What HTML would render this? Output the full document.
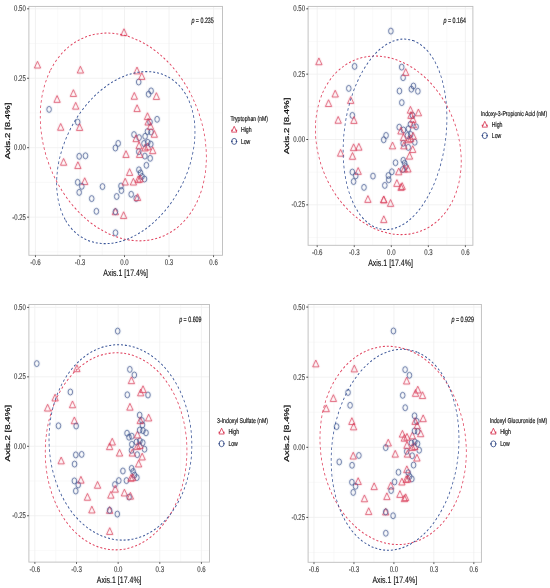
<!DOCTYPE html>
<html><head><meta charset="utf-8"><title>PCoA</title>
<style>html,body{margin:0;padding:0;background:#fff;}svg{display:block;}text{text-rendering:geometricPrecision;}</style></head>
<body><svg width="550" height="588" viewBox="0 0 550 588" font-family="'Liberation Sans', Arial, Helvetica, sans-serif">
<defs><filter id="bl" x="0" y="0" width="100%" height="100%" filterUnits="userSpaceOnUse"><feConvolveMatrix order="3" kernelMatrix="1 2 1 2 24 2 1 2 1" edgeMode="duplicate" preserveAlpha="false"/></filter></defs>
<rect width="550" height="588" fill="#fff"/>
<clipPath id="cTL"><rect x="28.9" y="6.4" width="193.6" height="248.9"/></clipPath>
<g clip-path="url(#cTL)"><line x1="57.72" y1="6.4" x2="57.72" y2="255.3" stroke="#f5f5f5" stroke-width="0.6"/><line x1="102.24" y1="6.4" x2="102.24" y2="255.3" stroke="#f5f5f5" stroke-width="0.6"/><line x1="146.76" y1="6.4" x2="146.76" y2="255.3" stroke="#f5f5f5" stroke-width="0.6"/><line x1="191.28" y1="6.4" x2="191.28" y2="255.3" stroke="#f5f5f5" stroke-width="0.6"/><line x1="28.9" y1="251.88" x2="222.5" y2="251.88" stroke="#f5f5f5" stroke-width="0.6"/><line x1="28.9" y1="182.42" x2="222.5" y2="182.42" stroke="#f5f5f5" stroke-width="0.6"/><line x1="28.9" y1="112.97" x2="222.5" y2="112.97" stroke="#f5f5f5" stroke-width="0.6"/><line x1="28.9" y1="43.52" x2="222.5" y2="43.52" stroke="#f5f5f5" stroke-width="0.6"/><line x1="35.46" y1="6.4" x2="35.46" y2="255.3" stroke="#efefef" stroke-width="0.8"/><line x1="79.98" y1="6.4" x2="79.98" y2="255.3" stroke="#efefef" stroke-width="0.8"/><line x1="124.5" y1="6.4" x2="124.5" y2="255.3" stroke="#efefef" stroke-width="0.8"/><line x1="169.02" y1="6.4" x2="169.02" y2="255.3" stroke="#efefef" stroke-width="0.8"/><line x1="213.54" y1="6.4" x2="213.54" y2="255.3" stroke="#efefef" stroke-width="0.8"/><line x1="28.9" y1="217.15" x2="222.5" y2="217.15" stroke="#efefef" stroke-width="0.8"/><line x1="28.9" y1="147.7" x2="222.5" y2="147.7" stroke="#efefef" stroke-width="0.8"/><line x1="28.9" y1="78.25" x2="222.5" y2="78.25" stroke="#efefef" stroke-width="0.8"/><line x1="28.9" y1="8.8" x2="222.5" y2="8.8" stroke="#efefef" stroke-width="0.8"/><g filter="url(#bl)"><path d="M124 28.76L127.15 35.56L120.85 35.56Z" fill="none" stroke="#d62c4a" stroke-width="0.8" stroke-linejoin="round"/><path d="M37.5 61.26L40.65 68.06L34.35 68.06Z" fill="none" stroke="#d62c4a" stroke-width="0.8" stroke-linejoin="round"/><path d="M80.4 66.26L83.55 73.06L77.25 73.06Z" fill="none" stroke="#d62c4a" stroke-width="0.8" stroke-linejoin="round"/><path d="M73.4 89.66L76.55 96.46L70.25 96.46Z" fill="none" stroke="#d62c4a" stroke-width="0.8" stroke-linejoin="round"/><path d="M57.1 95.56L60.25 102.36L53.95 102.36Z" fill="none" stroke="#d62c4a" stroke-width="0.8" stroke-linejoin="round"/><path d="M75.7 102.36L78.85 109.16L72.55 109.16Z" fill="none" stroke="#d62c4a" stroke-width="0.8" stroke-linejoin="round"/><ellipse cx="49.1" cy="109.4" rx="2.3" ry="3.0" fill="none" stroke="#2b4382" stroke-width="0.8"/><ellipse cx="77.7" cy="122.1" rx="2.3" ry="3.0" fill="none" stroke="#2b4382" stroke-width="0.8"/><path d="M60.7 123.46L63.85 130.26L57.55 130.26Z" fill="none" stroke="#d62c4a" stroke-width="0.8" stroke-linejoin="round"/><path d="M79.6 123.66L82.75 130.46L76.45 130.46Z" fill="none" stroke="#d62c4a" stroke-width="0.8" stroke-linejoin="round"/><ellipse cx="79.2" cy="156.3" rx="2.3" ry="3.0" fill="none" stroke="#2b4382" stroke-width="0.8"/><ellipse cx="85.5" cy="155.8" rx="2.3" ry="3.0" fill="none" stroke="#2b4382" stroke-width="0.8"/><path d="M63.6 158.46L66.75 165.26L60.45 165.26Z" fill="none" stroke="#d62c4a" stroke-width="0.8" stroke-linejoin="round"/><path d="M77.9 161.76L81.05 168.56L74.75 168.56Z" fill="none" stroke="#d62c4a" stroke-width="0.8" stroke-linejoin="round"/><ellipse cx="77.7" cy="182.3" rx="2.3" ry="3.0" fill="none" stroke="#2b4382" stroke-width="0.8"/><path d="M84.7 177.76L87.85 184.56L81.55 184.56Z" fill="none" stroke="#d62c4a" stroke-width="0.8" stroke-linejoin="round"/><ellipse cx="81.8" cy="186.3" rx="2.3" ry="3.0" fill="none" stroke="#2b4382" stroke-width="0.8"/><ellipse cx="79.2" cy="192.4" rx="2.3" ry="3.0" fill="none" stroke="#2b4382" stroke-width="0.8"/><ellipse cx="102.5" cy="186.6" rx="2.3" ry="3.0" fill="none" stroke="#2b4382" stroke-width="0.8"/><ellipse cx="91.7" cy="198.6" rx="2.3" ry="3.0" fill="none" stroke="#2b4382" stroke-width="0.8"/><ellipse cx="96.4" cy="211.3" rx="2.3" ry="3.0" fill="none" stroke="#2b4382" stroke-width="0.8"/><ellipse cx="116.7" cy="196.5" rx="2.3" ry="3.0" fill="none" stroke="#2b4382" stroke-width="0.8"/><ellipse cx="136.2" cy="198.5" rx="2.3" ry="3.0" fill="none" stroke="#2b4382" stroke-width="0.8"/><path d="M137.6 193.76L140.75 200.56L134.45 200.56Z" fill="none" stroke="#d62c4a" stroke-width="0.8" stroke-linejoin="round"/><path d="M115.4 207.96L118.55 214.76L112.25 214.76Z" fill="none" stroke="#d62c4a" stroke-width="0.8" stroke-linejoin="round"/><ellipse cx="115.4" cy="211.7" rx="2.3" ry="3.0" fill="none" stroke="#2b4382" stroke-width="0.8"/><path d="M123.6 211.76L126.75 218.56L120.45 218.56Z" fill="none" stroke="#d62c4a" stroke-width="0.8" stroke-linejoin="round"/><ellipse cx="115.5" cy="232.8" rx="2.3" ry="3.0" fill="none" stroke="#2b4382" stroke-width="0.8"/><ellipse cx="121" cy="186" rx="2.3" ry="3.0" fill="none" stroke="#2b4382" stroke-width="0.8"/><ellipse cx="121.4" cy="190.5" rx="2.3" ry="3.0" fill="none" stroke="#2b4382" stroke-width="0.8"/><ellipse cx="131.2" cy="194.3" rx="2.3" ry="3.0" fill="none" stroke="#2b4382" stroke-width="0.8"/><path d="M125.2 178.26L128.35 185.06L122.05 185.06Z" fill="none" stroke="#d62c4a" stroke-width="0.8" stroke-linejoin="round"/><path d="M133.4 178.26L136.55 185.06L130.25 185.06Z" fill="none" stroke="#d62c4a" stroke-width="0.8" stroke-linejoin="round"/><path d="M129.6 168.66L132.75 175.46L126.45 175.46Z" fill="none" stroke="#d62c4a" stroke-width="0.8" stroke-linejoin="round"/><ellipse cx="138.9" cy="169.8" rx="2.3" ry="3.0" fill="none" stroke="#2b4382" stroke-width="0.8"/><ellipse cx="140.5" cy="172.9" rx="2.3" ry="3.0" fill="none" stroke="#2b4382" stroke-width="0.8"/><ellipse cx="142" cy="176.5" rx="2.3" ry="3.0" fill="none" stroke="#2b4382" stroke-width="0.8"/><ellipse cx="144.5" cy="179" rx="2.3" ry="3.0" fill="none" stroke="#2b4382" stroke-width="0.8"/><path d="M138.2 175.86L141.35 182.66L135.05 182.66Z" fill="none" stroke="#d62c4a" stroke-width="0.8" stroke-linejoin="round"/><path d="M140.1 175.26L143.25 182.06L136.95 182.06Z" fill="none" stroke="#d62c4a" stroke-width="0.8" stroke-linejoin="round"/><ellipse cx="146.4" cy="165.3" rx="2.3" ry="3.0" fill="none" stroke="#2b4382" stroke-width="0.8"/><ellipse cx="150.2" cy="158.3" rx="2.3" ry="3.0" fill="none" stroke="#2b4382" stroke-width="0.8"/><ellipse cx="144.9" cy="156.1" rx="2.3" ry="3.0" fill="none" stroke="#2b4382" stroke-width="0.8"/><path d="M139.6 150.66L142.75 157.46L136.45 157.46Z" fill="none" stroke="#d62c4a" stroke-width="0.8" stroke-linejoin="round"/><ellipse cx="138.8" cy="151.7" rx="2.3" ry="3.0" fill="none" stroke="#2b4382" stroke-width="0.8"/><path d="M126 150.66L129.15 157.46L122.85 157.46Z" fill="none" stroke="#d62c4a" stroke-width="0.8" stroke-linejoin="round"/><ellipse cx="118.2" cy="143.4" rx="2.3" ry="3.0" fill="none" stroke="#2b4382" stroke-width="0.8"/><ellipse cx="115.4" cy="148" rx="2.3" ry="3.0" fill="none" stroke="#2b4382" stroke-width="0.8"/><path d="M152.7 146.86L155.85 153.66L149.55 153.66Z" fill="none" stroke="#d62c4a" stroke-width="0.8" stroke-linejoin="round"/><path d="M145.1 144.16L148.25 150.96L141.95 150.96Z" fill="none" stroke="#d62c4a" stroke-width="0.8" stroke-linejoin="round"/><path d="M147.8 143.06L150.95 149.86L144.65 149.86Z" fill="none" stroke="#d62c4a" stroke-width="0.8" stroke-linejoin="round"/><ellipse cx="144" cy="143.5" rx="2.3" ry="3.0" fill="none" stroke="#2b4382" stroke-width="0.8"/><ellipse cx="147.8" cy="142.4" rx="2.3" ry="3.0" fill="none" stroke="#2b4382" stroke-width="0.8"/><ellipse cx="150.8" cy="144.1" rx="2.3" ry="3.0" fill="none" stroke="#2b4382" stroke-width="0.8"/><path d="M139.1 141.96L142.25 148.76L135.95 148.76Z" fill="none" stroke="#d62c4a" stroke-width="0.8" stroke-linejoin="round"/><ellipse cx="134" cy="134.6" rx="2.3" ry="3.0" fill="none" stroke="#2b4382" stroke-width="0.8"/><ellipse cx="139.1" cy="137.6" rx="2.3" ry="3.0" fill="none" stroke="#2b4382" stroke-width="0.8"/><path d="M136.1 134.86L139.25 141.66L132.95 141.66Z" fill="none" stroke="#d62c4a" stroke-width="0.8" stroke-linejoin="round"/><ellipse cx="145.1" cy="136.3" rx="2.3" ry="3.0" fill="none" stroke="#2b4382" stroke-width="0.8"/><ellipse cx="147.5" cy="131.5" rx="2.3" ry="3.0" fill="none" stroke="#2b4382" stroke-width="0.8"/><ellipse cx="151" cy="132" rx="2.3" ry="3.0" fill="none" stroke="#2b4382" stroke-width="0.8"/><path d="M154.3 130.46L157.45 137.26L151.15 137.26Z" fill="none" stroke="#d62c4a" stroke-width="0.8" stroke-linejoin="round"/><path d="M150.5 122.56L153.65 129.36L147.35 129.36Z" fill="none" stroke="#d62c4a" stroke-width="0.8" stroke-linejoin="round"/><ellipse cx="150" cy="122" rx="2.3" ry="3.0" fill="none" stroke="#2b4382" stroke-width="0.8"/><path d="M148.1 118.26L151.25 125.06L144.95 125.06Z" fill="none" stroke="#d62c4a" stroke-width="0.8" stroke-linejoin="round"/><path d="M147.5 112.76L150.65 119.56L144.35 119.56Z" fill="none" stroke="#d62c4a" stroke-width="0.8" stroke-linejoin="round"/><ellipse cx="157.1" cy="119.3" rx="2.3" ry="3.0" fill="none" stroke="#2b4382" stroke-width="0.8"/><path d="M137.1 104.76L140.25 111.56L133.95 111.56Z" fill="none" stroke="#d62c4a" stroke-width="0.8" stroke-linejoin="round"/><path d="M134.3 92.46L137.45 99.26L131.15 99.26Z" fill="none" stroke="#d62c4a" stroke-width="0.8" stroke-linejoin="round"/><path d="M156.4 92.66L159.55 99.46L153.25 99.46Z" fill="none" stroke="#d62c4a" stroke-width="0.8" stroke-linejoin="round"/><ellipse cx="148.6" cy="94.2" rx="2.3" ry="3.0" fill="none" stroke="#2b4382" stroke-width="0.8"/><ellipse cx="151.1" cy="90.9" rx="2.3" ry="3.0" fill="none" stroke="#2b4382" stroke-width="0.8"/><ellipse cx="138.7" cy="82" rx="2.3" ry="3.0" fill="none" stroke="#2b4382" stroke-width="0.8"/><path d="M137 67.06L140.15 73.86L133.85 73.86Z" fill="none" stroke="#d62c4a" stroke-width="0.8" stroke-linejoin="round"/><path d="M141.8 72.66L144.95 79.46L138.65 79.46Z" fill="none" stroke="#d62c4a" stroke-width="0.8" stroke-linejoin="round"/></g><g transform="scale(0.74 1)"><ellipse cx="166.62" cy="136.97" rx="118.9" ry="96.15" transform="rotate(-145.78 166.62 136.97)" fill="none" stroke="#e0425e" stroke-width="1.05" stroke-dasharray="2.7 2.6"/><ellipse cx="170.01" cy="157.62" rx="102.74" ry="74.68" transform="rotate(142.78 170.01 157.62)" fill="none" stroke="#3a5598" stroke-width="1.05" stroke-dasharray="2.7 2.6"/></g></g>
<rect x="28.9" y="6.4" width="193.6" height="248.9" fill="none" stroke="#bcbcbc" stroke-width="0.9"/>
<text transform="translate(35.46 265.2) scale(0.74 1)" font-size="8.3" fill="#3c3c3c" stroke="#3c3c3c" stroke-width="0.12" text-anchor="middle" textLength="14.32" lengthAdjust="spacingAndGlyphs">-0.6</text>
<text transform="translate(79.98 265.2) scale(0.74 1)" font-size="8.3" fill="#3c3c3c" stroke="#3c3c3c" stroke-width="0.12" text-anchor="middle" textLength="14.32" lengthAdjust="spacingAndGlyphs">-0.3</text>
<text transform="translate(124.5 265.2) scale(0.74 1)" font-size="8.3" fill="#3c3c3c" stroke="#3c3c3c" stroke-width="0.12" text-anchor="middle" textLength="11.35" lengthAdjust="spacingAndGlyphs">0.0</text>
<text transform="translate(169.02 265.2) scale(0.74 1)" font-size="8.3" fill="#3c3c3c" stroke="#3c3c3c" stroke-width="0.12" text-anchor="middle" textLength="11.35" lengthAdjust="spacingAndGlyphs">0.3</text>
<text transform="translate(213.54 265.2) scale(0.74 1)" font-size="8.3" fill="#3c3c3c" stroke="#3c3c3c" stroke-width="0.12" text-anchor="middle" textLength="11.35" lengthAdjust="spacingAndGlyphs">0.6</text>
<text transform="translate(25.8 219.65) scale(0.74 1)" font-size="8.3" fill="#3c3c3c" stroke="#3c3c3c" stroke-width="0.12" text-anchor="end" textLength="18.38" lengthAdjust="spacingAndGlyphs">-0.25</text>
<text transform="translate(25.8 150.2) scale(0.74 1)" font-size="8.3" fill="#3c3c3c" stroke="#3c3c3c" stroke-width="0.12" text-anchor="end" textLength="15.81" lengthAdjust="spacingAndGlyphs">0.00</text>
<text transform="translate(25.8 80.75) scale(0.74 1)" font-size="8.3" fill="#3c3c3c" stroke="#3c3c3c" stroke-width="0.12" text-anchor="end" textLength="15.81" lengthAdjust="spacingAndGlyphs">0.25</text>
<text transform="translate(25.8 11.3) scale(0.74 1)" font-size="8.3" fill="#3c3c3c" stroke="#3c3c3c" stroke-width="0.12" text-anchor="end" textLength="15.81" lengthAdjust="spacingAndGlyphs">0.50</text>
<line x1="35.46" y1="255.3" x2="35.46" y2="257.1" stroke="#333333" stroke-width="0.8"/><line x1="79.98" y1="255.3" x2="79.98" y2="257.1" stroke="#333333" stroke-width="0.8"/><line x1="124.5" y1="255.3" x2="124.5" y2="257.1" stroke="#333333" stroke-width="0.8"/><line x1="169.02" y1="255.3" x2="169.02" y2="257.1" stroke="#333333" stroke-width="0.8"/><line x1="213.54" y1="255.3" x2="213.54" y2="257.1" stroke="#333333" stroke-width="0.8"/><line x1="27.1" y1="217.15" x2="28.9" y2="217.15" stroke="#333333" stroke-width="0.9"/><line x1="27.1" y1="147.7" x2="28.9" y2="147.7" stroke="#333333" stroke-width="0.9"/><line x1="27.1" y1="78.25" x2="28.9" y2="78.25" stroke="#333333" stroke-width="0.9"/><line x1="27.1" y1="8.8" x2="28.9" y2="8.8" stroke="#333333" stroke-width="0.9"/>
<text transform="translate(125.7 275.9) scale(0.74 1)" font-size="9.4" fill="#111" stroke="#111" stroke-width="0.15" text-anchor="middle" textLength="60.41" lengthAdjust="spacingAndGlyphs">Axis.1 [17.4%]</text>
<text x="0" y="0" font-size="9.6" fill="#111" stroke="#111" stroke-width="0.3" text-anchor="middle" textLength="56.5" lengthAdjust="spacingAndGlyphs" transform="translate(9.5 130.85) scale(0.74 1) rotate(-90)">Axis.2 [8.4%]</text>
<text transform="translate(191.4 23.3) scale(0.74 1)" font-size="7.8" fill="#111" stroke="#111" stroke-width="0.18" textLength="30.27" lengthAdjust="spacingAndGlyphs"><tspan font-style="italic">p</tspan> = 0.235</text>
<text transform="translate(230.4 120.8) scale(0.74 1)" font-size="7" fill="#111" stroke="#111" stroke-width="0.18" text-anchor="start" textLength="50.81" lengthAdjust="spacingAndGlyphs">Tryptophan (nM)</text>
<g><line x1="231.1" y1="130.3" x2="232.6" y2="130.3" stroke="#d62c4a" stroke-width="1.1"/><line x1="235.7" y1="130.3" x2="237.2" y2="130.3" stroke="#d62c4a" stroke-width="1.1"/><line x1="231.1" y1="141.4" x2="232.6" y2="141.4" stroke="#2b4382" stroke-width="1.1"/><line x1="235.7" y1="141.4" x2="237.2" y2="141.4" stroke="#2b4382" stroke-width="1.1"/><path d="M234.2 126.31L236.85 132.11L231.55 132.11Z" fill="none" stroke="#d62c4a" stroke-width="0.8" stroke-linejoin="round"/><ellipse cx="234.2" cy="141.4" rx="2.5" ry="3.0" fill="none" stroke="#2b4382" stroke-width="0.8"/></g>
<text transform="translate(240.9 132.1) scale(0.74 1)" font-size="7.2" fill="#111" stroke="#111" stroke-width="0.18" text-anchor="start" textLength="14.46" lengthAdjust="spacingAndGlyphs">High</text>
<text transform="translate(240.9 143.8) scale(0.74 1)" font-size="7.2" fill="#111" stroke="#111" stroke-width="0.18" text-anchor="start" textLength="12.7" lengthAdjust="spacingAndGlyphs">Low</text>
<clipPath id="cTR"><rect x="308.1" y="6.4" width="164.8" height="238.9"/></clipPath>
<g clip-path="url(#cTR)"><line x1="335.73" y1="6.4" x2="335.73" y2="245.3" stroke="#f5f5f5" stroke-width="0.6"/><line x1="372.78" y1="6.4" x2="372.78" y2="245.3" stroke="#f5f5f5" stroke-width="0.6"/><line x1="409.82" y1="6.4" x2="409.82" y2="245.3" stroke="#f5f5f5" stroke-width="0.6"/><line x1="446.88" y1="6.4" x2="446.88" y2="245.3" stroke="#f5f5f5" stroke-width="0.6"/><line x1="308.1" y1="237.52" x2="472.9" y2="237.52" stroke="#f5f5f5" stroke-width="0.6"/><line x1="308.1" y1="172.18" x2="472.9" y2="172.18" stroke="#f5f5f5" stroke-width="0.6"/><line x1="308.1" y1="106.83" x2="472.9" y2="106.83" stroke="#f5f5f5" stroke-width="0.6"/><line x1="308.1" y1="41.48" x2="472.9" y2="41.48" stroke="#f5f5f5" stroke-width="0.6"/><line x1="317.2" y1="6.4" x2="317.2" y2="245.3" stroke="#efefef" stroke-width="0.8"/><line x1="354.25" y1="6.4" x2="354.25" y2="245.3" stroke="#efefef" stroke-width="0.8"/><line x1="391.3" y1="6.4" x2="391.3" y2="245.3" stroke="#efefef" stroke-width="0.8"/><line x1="428.35" y1="6.4" x2="428.35" y2="245.3" stroke="#efefef" stroke-width="0.8"/><line x1="465.4" y1="6.4" x2="465.4" y2="245.3" stroke="#efefef" stroke-width="0.8"/><line x1="308.1" y1="204.85" x2="472.9" y2="204.85" stroke="#efefef" stroke-width="0.8"/><line x1="308.1" y1="139.5" x2="472.9" y2="139.5" stroke="#efefef" stroke-width="0.8"/><line x1="308.1" y1="74.15" x2="472.9" y2="74.15" stroke="#efefef" stroke-width="0.8"/><line x1="308.1" y1="8.8" x2="472.9" y2="8.8" stroke="#efefef" stroke-width="0.8"/><g filter="url(#bl)"><ellipse cx="390.88" cy="31.1" rx="2.3" ry="3.0" fill="none" stroke="#2b4382" stroke-width="0.8"/><path d="M318.9 57.94L322.05 64.74L315.75 64.74Z" fill="none" stroke="#d62c4a" stroke-width="0.8" stroke-linejoin="round"/><ellipse cx="354.6" cy="66.39" rx="2.3" ry="3.0" fill="none" stroke="#2b4382" stroke-width="0.8"/><ellipse cx="348.77" cy="88.41" rx="2.3" ry="3.0" fill="none" stroke="#2b4382" stroke-width="0.8"/><path d="M335.21 90.22L338.36 97.02L332.06 97.02Z" fill="none" stroke="#d62c4a" stroke-width="0.8" stroke-linejoin="round"/><path d="M350.69 96.62L353.84 103.42L347.54 103.42Z" fill="none" stroke="#d62c4a" stroke-width="0.8" stroke-linejoin="round"/><path d="M328.55 99.72L331.7 106.52L325.4 106.52Z" fill="none" stroke="#d62c4a" stroke-width="0.8" stroke-linejoin="round"/><ellipse cx="352.35" cy="115.41" rx="2.3" ry="3.0" fill="none" stroke="#2b4382" stroke-width="0.8"/><path d="M338.2 116.47L341.35 123.27L335.05 123.27Z" fill="none" stroke="#d62c4a" stroke-width="0.8" stroke-linejoin="round"/><path d="M353.93 116.66L357.08 123.46L350.78 123.46Z" fill="none" stroke="#d62c4a" stroke-width="0.8" stroke-linejoin="round"/><path d="M353.6 143.85L356.75 150.65L350.45 150.65Z" fill="none" stroke="#d62c4a" stroke-width="0.8" stroke-linejoin="round"/><path d="M358.84 143.38L361.99 150.18L355.69 150.18Z" fill="none" stroke="#d62c4a" stroke-width="0.8" stroke-linejoin="round"/><path d="M340.62 149.4L343.77 156.2L337.47 156.2Z" fill="none" stroke="#d62c4a" stroke-width="0.8" stroke-linejoin="round"/><path d="M352.52 152.51L355.67 159.31L349.37 159.31Z" fill="none" stroke="#d62c4a" stroke-width="0.8" stroke-linejoin="round"/><ellipse cx="352.35" cy="172.06" rx="2.3" ry="3.0" fill="none" stroke="#2b4382" stroke-width="0.8"/><path d="M358.18 167.56L361.33 174.36L355.03 174.36Z" fill="none" stroke="#d62c4a" stroke-width="0.8" stroke-linejoin="round"/><ellipse cx="355.76" cy="175.82" rx="2.3" ry="3.0" fill="none" stroke="#2b4382" stroke-width="0.8"/><ellipse cx="353.6" cy="181.56" rx="2.3" ry="3.0" fill="none" stroke="#2b4382" stroke-width="0.8"/><ellipse cx="372.99" cy="176.1" rx="2.3" ry="3.0" fill="none" stroke="#2b4382" stroke-width="0.8"/><ellipse cx="364" cy="187.4" rx="2.3" ry="3.0" fill="none" stroke="#2b4382" stroke-width="0.8"/><path d="M367.91 195.61L371.06 202.41L364.76 202.41Z" fill="none" stroke="#d62c4a" stroke-width="0.8" stroke-linejoin="round"/><ellipse cx="384.81" cy="185.42" rx="2.3" ry="3.0" fill="none" stroke="#2b4382" stroke-width="0.8"/><path d="M401.04 183.56L404.19 190.36L397.89 190.36Z" fill="none" stroke="#d62c4a" stroke-width="0.8" stroke-linejoin="round"/><path d="M402.2 182.62L405.35 189.42L399.05 189.42Z" fill="none" stroke="#d62c4a" stroke-width="0.8" stroke-linejoin="round"/><path d="M383.73 195.98L386.88 202.78L380.58 202.78Z" fill="none" stroke="#d62c4a" stroke-width="0.8" stroke-linejoin="round"/><path d="M383.73 195.98L386.88 202.78L380.58 202.78Z" fill="none" stroke="#d62c4a" stroke-width="0.8" stroke-linejoin="round"/><path d="M390.55 199.56L393.7 206.36L387.4 206.36Z" fill="none" stroke="#d62c4a" stroke-width="0.8" stroke-linejoin="round"/><path d="M383.81 215.84L386.96 222.64L380.66 222.64Z" fill="none" stroke="#d62c4a" stroke-width="0.8" stroke-linejoin="round"/><ellipse cx="388.39" cy="175.54" rx="2.3" ry="3.0" fill="none" stroke="#2b4382" stroke-width="0.8"/><ellipse cx="388.72" cy="179.77" rx="2.3" ry="3.0" fill="none" stroke="#2b4382" stroke-width="0.8"/><path d="M396.88 179.61L400.03 186.41L393.73 186.41Z" fill="none" stroke="#d62c4a" stroke-width="0.8" stroke-linejoin="round"/><ellipse cx="391.88" cy="171.78" rx="2.3" ry="3.0" fill="none" stroke="#2b4382" stroke-width="0.8"/><path d="M398.71 168.04L401.86 174.84L395.56 174.84Z" fill="none" stroke="#d62c4a" stroke-width="0.8" stroke-linejoin="round"/><ellipse cx="395.54" cy="162.74" rx="2.3" ry="3.0" fill="none" stroke="#2b4382" stroke-width="0.8"/><ellipse cx="403.28" cy="160.3" rx="2.3" ry="3.0" fill="none" stroke="#2b4382" stroke-width="0.8"/><ellipse cx="404.62" cy="163.21" rx="2.3" ry="3.0" fill="none" stroke="#2b4382" stroke-width="0.8"/><ellipse cx="405.86" cy="166.6" rx="2.3" ry="3.0" fill="none" stroke="#2b4382" stroke-width="0.8"/><path d="M407.94 165.21L411.09 172.01L404.79 172.01Z" fill="none" stroke="#d62c4a" stroke-width="0.8" stroke-linejoin="round"/><ellipse cx="402.7" cy="169.52" rx="2.3" ry="3.0" fill="none" stroke="#2b4382" stroke-width="0.8"/><path d="M404.28 165.21L407.43 172.01L401.13 172.01Z" fill="none" stroke="#d62c4a" stroke-width="0.8" stroke-linejoin="round"/><path d="M409.53 152.32L412.68 159.12L406.38 159.12Z" fill="none" stroke="#d62c4a" stroke-width="0.8" stroke-linejoin="round"/><path d="M412.69 145.73L415.84 152.53L409.54 152.53Z" fill="none" stroke="#d62c4a" stroke-width="0.8" stroke-linejoin="round"/><ellipse cx="408.28" cy="147.4" rx="2.3" ry="3.0" fill="none" stroke="#2b4382" stroke-width="0.8"/><path d="M403.87 142.06L407.02 148.86L400.72 148.86Z" fill="none" stroke="#d62c4a" stroke-width="0.8" stroke-linejoin="round"/><ellipse cx="403.2" cy="143.26" rx="2.3" ry="3.0" fill="none" stroke="#2b4382" stroke-width="0.8"/><path d="M392.55 142.06L395.7 148.86L389.4 148.86Z" fill="none" stroke="#d62c4a" stroke-width="0.8" stroke-linejoin="round"/><ellipse cx="386.06" cy="135.45" rx="2.3" ry="3.0" fill="none" stroke="#2b4382" stroke-width="0.8"/><ellipse cx="383.73" cy="139.78" rx="2.3" ry="3.0" fill="none" stroke="#2b4382" stroke-width="0.8"/><ellipse cx="414.77" cy="142.23" rx="2.3" ry="3.0" fill="none" stroke="#2b4382" stroke-width="0.8"/><path d="M408.44 135.95L411.59 142.75L405.29 142.75Z" fill="none" stroke="#d62c4a" stroke-width="0.8" stroke-linejoin="round"/><path d="M410.69 134.91L413.84 141.71L407.54 141.71Z" fill="none" stroke="#d62c4a" stroke-width="0.8" stroke-linejoin="round"/><ellipse cx="407.53" cy="135.55" rx="2.3" ry="3.0" fill="none" stroke="#2b4382" stroke-width="0.8"/><ellipse cx="410.69" cy="134.51" rx="2.3" ry="3.0" fill="none" stroke="#2b4382" stroke-width="0.8"/><path d="M413.19 132.37L416.34 139.17L410.04 139.17Z" fill="none" stroke="#d62c4a" stroke-width="0.8" stroke-linejoin="round"/><path d="M403.45 133.88L406.6 140.68L400.3 140.68Z" fill="none" stroke="#d62c4a" stroke-width="0.8" stroke-linejoin="round"/><ellipse cx="399.21" cy="127.17" rx="2.3" ry="3.0" fill="none" stroke="#2b4382" stroke-width="0.8"/><ellipse cx="403.45" cy="130" rx="2.3" ry="3.0" fill="none" stroke="#2b4382" stroke-width="0.8"/><path d="M400.95 127.2L404.1 134L397.8 134Z" fill="none" stroke="#d62c4a" stroke-width="0.8" stroke-linejoin="round"/><ellipse cx="408.44" cy="128.77" rx="2.3" ry="3.0" fill="none" stroke="#2b4382" stroke-width="0.8"/><ellipse cx="410.44" cy="124.26" rx="2.3" ry="3.0" fill="none" stroke="#2b4382" stroke-width="0.8"/><path d="M413.35 120.99L416.5 127.79L410.2 127.79Z" fill="none" stroke="#d62c4a" stroke-width="0.8" stroke-linejoin="round"/><ellipse cx="416.1" cy="126.8" rx="2.3" ry="3.0" fill="none" stroke="#2b4382" stroke-width="0.8"/><path d="M412.94 115.62L416.09 122.42L409.79 122.42Z" fill="none" stroke="#d62c4a" stroke-width="0.8" stroke-linejoin="round"/><ellipse cx="412.52" cy="115.32" rx="2.3" ry="3.0" fill="none" stroke="#2b4382" stroke-width="0.8"/><path d="M410.94 111.58L414.09 118.38L407.79 118.38Z" fill="none" stroke="#d62c4a" stroke-width="0.8" stroke-linejoin="round"/><path d="M410.44 106.4L413.59 113.2L407.29 113.2Z" fill="none" stroke="#d62c4a" stroke-width="0.8" stroke-linejoin="round"/><path d="M418.43 109.04L421.58 115.84L415.28 115.84Z" fill="none" stroke="#d62c4a" stroke-width="0.8" stroke-linejoin="round"/><ellipse cx="401.79" cy="102.61" rx="2.3" ry="3.0" fill="none" stroke="#2b4382" stroke-width="0.8"/><ellipse cx="399.46" cy="91.04" rx="2.3" ry="3.0" fill="none" stroke="#2b4382" stroke-width="0.8"/><ellipse cx="417.85" cy="91.23" rx="2.3" ry="3.0" fill="none" stroke="#2b4382" stroke-width="0.8"/><ellipse cx="411.36" cy="89.16" rx="2.3" ry="3.0" fill="none" stroke="#2b4382" stroke-width="0.8"/><ellipse cx="413.44" cy="86.05" rx="2.3" ry="3.0" fill="none" stroke="#2b4382" stroke-width="0.8"/><ellipse cx="403.12" cy="77.68" rx="2.3" ry="3.0" fill="none" stroke="#2b4382" stroke-width="0.8"/><ellipse cx="401.7" cy="67.14" rx="2.3" ry="3.0" fill="none" stroke="#2b4382" stroke-width="0.8"/><path d="M405.7 68.67L408.85 75.47L402.55 75.47Z" fill="none" stroke="#d62c4a" stroke-width="0.8" stroke-linejoin="round"/></g><g transform="scale(0.74 1)"><ellipse cx="524.76" cy="145.34" rx="103.1" ry="83.94" transform="rotate(-149.49 524.76 145.34)" fill="none" stroke="#e0425e" stroke-width="1.05" stroke-dasharray="2.7 2.6"/><ellipse cx="533.82" cy="134.31" rx="96.78" ry="67.97" transform="rotate(-75.56 533.82 134.31)" fill="none" stroke="#3a5598" stroke-width="1.05" stroke-dasharray="2.7 2.6"/></g></g>
<rect x="308.1" y="6.4" width="164.8" height="238.9" fill="none" stroke="#bcbcbc" stroke-width="0.9"/>
<text transform="translate(317.2 254.8) scale(0.74 1)" font-size="8.3" fill="#3c3c3c" stroke="#3c3c3c" stroke-width="0.12" text-anchor="middle" textLength="14.32" lengthAdjust="spacingAndGlyphs">-0.6</text>
<text transform="translate(354.25 254.8) scale(0.74 1)" font-size="8.3" fill="#3c3c3c" stroke="#3c3c3c" stroke-width="0.12" text-anchor="middle" textLength="14.32" lengthAdjust="spacingAndGlyphs">-0.3</text>
<text transform="translate(391.3 254.8) scale(0.74 1)" font-size="8.3" fill="#3c3c3c" stroke="#3c3c3c" stroke-width="0.12" text-anchor="middle" textLength="11.35" lengthAdjust="spacingAndGlyphs">0.0</text>
<text transform="translate(428.35 254.8) scale(0.74 1)" font-size="8.3" fill="#3c3c3c" stroke="#3c3c3c" stroke-width="0.12" text-anchor="middle" textLength="11.35" lengthAdjust="spacingAndGlyphs">0.3</text>
<text transform="translate(465.4 254.8) scale(0.74 1)" font-size="8.3" fill="#3c3c3c" stroke="#3c3c3c" stroke-width="0.12" text-anchor="middle" textLength="11.35" lengthAdjust="spacingAndGlyphs">0.6</text>
<text transform="translate(305 207.35) scale(0.74 1)" font-size="8.3" fill="#3c3c3c" stroke="#3c3c3c" stroke-width="0.12" text-anchor="end" textLength="18.38" lengthAdjust="spacingAndGlyphs">-0.25</text>
<text transform="translate(305 142) scale(0.74 1)" font-size="8.3" fill="#3c3c3c" stroke="#3c3c3c" stroke-width="0.12" text-anchor="end" textLength="15.81" lengthAdjust="spacingAndGlyphs">0.00</text>
<text transform="translate(305 76.65) scale(0.74 1)" font-size="8.3" fill="#3c3c3c" stroke="#3c3c3c" stroke-width="0.12" text-anchor="end" textLength="15.81" lengthAdjust="spacingAndGlyphs">0.25</text>
<text transform="translate(305 11.3) scale(0.74 1)" font-size="8.3" fill="#3c3c3c" stroke="#3c3c3c" stroke-width="0.12" text-anchor="end" textLength="15.81" lengthAdjust="spacingAndGlyphs">0.50</text>
<line x1="317.2" y1="245.3" x2="317.2" y2="247.1" stroke="#333333" stroke-width="0.8"/><line x1="354.25" y1="245.3" x2="354.25" y2="247.1" stroke="#333333" stroke-width="0.8"/><line x1="391.3" y1="245.3" x2="391.3" y2="247.1" stroke="#333333" stroke-width="0.8"/><line x1="428.35" y1="245.3" x2="428.35" y2="247.1" stroke="#333333" stroke-width="0.8"/><line x1="465.4" y1="245.3" x2="465.4" y2="247.1" stroke="#333333" stroke-width="0.8"/><line x1="306.3" y1="204.85" x2="308.1" y2="204.85" stroke="#333333" stroke-width="0.9"/><line x1="306.3" y1="139.5" x2="308.1" y2="139.5" stroke="#333333" stroke-width="0.9"/><line x1="306.3" y1="74.15" x2="308.1" y2="74.15" stroke="#333333" stroke-width="0.9"/><line x1="306.3" y1="8.8" x2="308.1" y2="8.8" stroke="#333333" stroke-width="0.9"/>
<text transform="translate(390.5 265.9) scale(0.74 1)" font-size="9.4" fill="#111" stroke="#111" stroke-width="0.15" text-anchor="middle" textLength="60.41" lengthAdjust="spacingAndGlyphs">Axis.1 [17.4%]</text>
<text x="0" y="0" font-size="9.6" fill="#111" stroke="#111" stroke-width="0.3" text-anchor="middle" textLength="56.5" lengthAdjust="spacingAndGlyphs" transform="translate(288.7 125.85) scale(0.74 1) rotate(-90)">Axis.2 [8.4%]</text>
<text transform="translate(443.5 22.8) scale(0.74 1)" font-size="7.8" fill="#111" stroke="#111" stroke-width="0.18" textLength="30.27" lengthAdjust="spacingAndGlyphs"><tspan font-style="italic">p</tspan> = 0.164</text>
<text transform="translate(480.9 116.1) scale(0.74 1)" font-size="7" fill="#111" stroke="#111" stroke-width="0.18" text-anchor="start" textLength="89.46" lengthAdjust="spacingAndGlyphs">Indoxy-3-Propionic Acid (nM)</text>
<g><line x1="481.7" y1="125.3" x2="483.2" y2="125.3" stroke="#d62c4a" stroke-width="1.1"/><line x1="486.3" y1="125.3" x2="487.8" y2="125.3" stroke="#d62c4a" stroke-width="1.1"/><line x1="481.7" y1="135.6" x2="483.2" y2="135.6" stroke="#2b4382" stroke-width="1.1"/><line x1="486.3" y1="135.6" x2="487.8" y2="135.6" stroke="#2b4382" stroke-width="1.1"/><path d="M484.8 121.31L487.45 127.11L482.15 127.11Z" fill="none" stroke="#d62c4a" stroke-width="0.8" stroke-linejoin="round"/><ellipse cx="484.8" cy="135.6" rx="2.5" ry="3.0" fill="none" stroke="#2b4382" stroke-width="0.8"/></g>
<text transform="translate(491.8 127.1) scale(0.74 1)" font-size="7.2" fill="#111" stroke="#111" stroke-width="0.18" text-anchor="start" textLength="14.46" lengthAdjust="spacingAndGlyphs">High</text>
<text transform="translate(491.8 138) scale(0.74 1)" font-size="7.2" fill="#111" stroke="#111" stroke-width="0.18" text-anchor="start" textLength="12.7" lengthAdjust="spacingAndGlyphs">Low</text>
<clipPath id="cBL"><rect x="28.9" y="304.5" width="180.6" height="257.6"/></clipPath>
<g clip-path="url(#cBL)"><line x1="55.69" y1="304.5" x2="55.69" y2="562.1" stroke="#f5f5f5" stroke-width="0.6"/><line x1="97.33" y1="304.5" x2="97.33" y2="562.1" stroke="#f5f5f5" stroke-width="0.6"/><line x1="138.97" y1="304.5" x2="138.97" y2="562.1" stroke="#f5f5f5" stroke-width="0.6"/><line x1="180.61" y1="304.5" x2="180.61" y2="562.1" stroke="#f5f5f5" stroke-width="0.6"/><line x1="28.9" y1="550.48" x2="209.5" y2="550.48" stroke="#f5f5f5" stroke-width="0.6"/><line x1="28.9" y1="481.03" x2="209.5" y2="481.03" stroke="#f5f5f5" stroke-width="0.6"/><line x1="28.9" y1="411.57" x2="209.5" y2="411.57" stroke="#f5f5f5" stroke-width="0.6"/><line x1="28.9" y1="342.12" x2="209.5" y2="342.12" stroke="#f5f5f5" stroke-width="0.6"/><line x1="34.87" y1="304.5" x2="34.87" y2="562.1" stroke="#efefef" stroke-width="0.8"/><line x1="76.51" y1="304.5" x2="76.51" y2="562.1" stroke="#efefef" stroke-width="0.8"/><line x1="118.15" y1="304.5" x2="118.15" y2="562.1" stroke="#efefef" stroke-width="0.8"/><line x1="159.79" y1="304.5" x2="159.79" y2="562.1" stroke="#efefef" stroke-width="0.8"/><line x1="201.43" y1="304.5" x2="201.43" y2="562.1" stroke="#efefef" stroke-width="0.8"/><line x1="28.9" y1="515.75" x2="209.5" y2="515.75" stroke="#efefef" stroke-width="0.8"/><line x1="28.9" y1="446.3" x2="209.5" y2="446.3" stroke="#efefef" stroke-width="0.8"/><line x1="28.9" y1="376.85" x2="209.5" y2="376.85" stroke="#efefef" stroke-width="0.8"/><line x1="28.9" y1="307.4" x2="209.5" y2="307.4" stroke="#efefef" stroke-width="0.8"/><g filter="url(#bl)"><ellipse cx="117.68" cy="331.1" rx="2.3" ry="3.0" fill="none" stroke="#2b4382" stroke-width="0.8"/><ellipse cx="36.78" cy="363.6" rx="2.3" ry="3.0" fill="none" stroke="#2b4382" stroke-width="0.8"/><path d="M76.9 364.86L80.05 371.66L73.75 371.66Z" fill="none" stroke="#d62c4a" stroke-width="0.8" stroke-linejoin="round"/><ellipse cx="70.36" cy="392" rx="2.3" ry="3.0" fill="none" stroke="#2b4382" stroke-width="0.8"/><path d="M55.11 394.16L58.26 400.96L51.96 400.96Z" fill="none" stroke="#d62c4a" stroke-width="0.8" stroke-linejoin="round"/><path d="M72.51 400.96L75.66 407.76L69.36 407.76Z" fill="none" stroke="#d62c4a" stroke-width="0.8" stroke-linejoin="round"/><path d="M47.63 404.26L50.78 411.06L44.48 411.06Z" fill="none" stroke="#d62c4a" stroke-width="0.8" stroke-linejoin="round"/><path d="M74.38 416.96L77.53 423.76L71.23 423.76Z" fill="none" stroke="#d62c4a" stroke-width="0.8" stroke-linejoin="round"/><ellipse cx="58.48" cy="425.8" rx="2.3" ry="3.0" fill="none" stroke="#2b4382" stroke-width="0.8"/><ellipse cx="76.15" cy="426" rx="2.3" ry="3.0" fill="none" stroke="#2b4382" stroke-width="0.8"/><ellipse cx="75.78" cy="454.9" rx="2.3" ry="3.0" fill="none" stroke="#2b4382" stroke-width="0.8"/><ellipse cx="81.67" cy="454.4" rx="2.3" ry="3.0" fill="none" stroke="#2b4382" stroke-width="0.8"/><path d="M61.19 457.06L64.34 463.86L58.04 463.86Z" fill="none" stroke="#d62c4a" stroke-width="0.8" stroke-linejoin="round"/><ellipse cx="74.56" cy="464.1" rx="2.3" ry="3.0" fill="none" stroke="#2b4382" stroke-width="0.8"/><ellipse cx="74.38" cy="480.9" rx="2.3" ry="3.0" fill="none" stroke="#2b4382" stroke-width="0.8"/><path d="M80.92 476.36L84.07 483.16L77.77 483.16Z" fill="none" stroke="#d62c4a" stroke-width="0.8" stroke-linejoin="round"/><ellipse cx="78.21" cy="484.9" rx="2.3" ry="3.0" fill="none" stroke="#2b4382" stroke-width="0.8"/><ellipse cx="75.78" cy="491" rx="2.3" ry="3.0" fill="none" stroke="#2b4382" stroke-width="0.8"/><path d="M97.57 481.46L100.72 488.26L94.42 488.26Z" fill="none" stroke="#d62c4a" stroke-width="0.8" stroke-linejoin="round"/><path d="M87.47 493.46L90.62 500.26L84.32 500.26Z" fill="none" stroke="#d62c4a" stroke-width="0.8" stroke-linejoin="round"/><path d="M91.87 506.16L95.02 512.96L88.72 512.96Z" fill="none" stroke="#d62c4a" stroke-width="0.8" stroke-linejoin="round"/><path d="M110.85 491.36L114 498.16L107.7 498.16Z" fill="none" stroke="#d62c4a" stroke-width="0.8" stroke-linejoin="round"/><ellipse cx="129.09" cy="497.1" rx="2.3" ry="3.0" fill="none" stroke="#2b4382" stroke-width="0.8"/><path d="M130.4 492.36L133.55 499.16L127.25 499.16Z" fill="none" stroke="#d62c4a" stroke-width="0.8" stroke-linejoin="round"/><path d="M109.64 506.56L112.79 513.36L106.49 513.36Z" fill="none" stroke="#d62c4a" stroke-width="0.8" stroke-linejoin="round"/><ellipse cx="109.64" cy="510.3" rx="2.3" ry="3.0" fill="none" stroke="#2b4382" stroke-width="0.8"/><ellipse cx="117.31" cy="514.1" rx="2.3" ry="3.0" fill="none" stroke="#2b4382" stroke-width="0.8"/><path d="M109.73 527.66L112.88 534.46L106.58 534.46Z" fill="none" stroke="#d62c4a" stroke-width="0.8" stroke-linejoin="round"/><ellipse cx="114.88" cy="484.6" rx="2.3" ry="3.0" fill="none" stroke="#2b4382" stroke-width="0.8"/><path d="M115.25 485.36L118.4 492.16L112.1 492.16Z" fill="none" stroke="#d62c4a" stroke-width="0.8" stroke-linejoin="round"/><path d="M124.42 489.16L127.57 495.96L121.27 495.96Z" fill="none" stroke="#d62c4a" stroke-width="0.8" stroke-linejoin="round"/><ellipse cx="118.8" cy="480.6" rx="2.3" ry="3.0" fill="none" stroke="#2b4382" stroke-width="0.8"/><ellipse cx="126.47" cy="480.6" rx="2.3" ry="3.0" fill="none" stroke="#2b4382" stroke-width="0.8"/><ellipse cx="122.92" cy="471" rx="2.3" ry="3.0" fill="none" stroke="#2b4382" stroke-width="0.8"/><ellipse cx="131.62" cy="468.4" rx="2.3" ry="3.0" fill="none" stroke="#2b4382" stroke-width="0.8"/><ellipse cx="133.11" cy="471.5" rx="2.3" ry="3.0" fill="none" stroke="#2b4382" stroke-width="0.8"/><ellipse cx="134.52" cy="475.1" rx="2.3" ry="3.0" fill="none" stroke="#2b4382" stroke-width="0.8"/><ellipse cx="136.86" cy="477.6" rx="2.3" ry="3.0" fill="none" stroke="#2b4382" stroke-width="0.8"/><path d="M130.96 474.46L134.11 481.26L127.81 481.26Z" fill="none" stroke="#d62c4a" stroke-width="0.8" stroke-linejoin="round"/><path d="M132.74 473.86L135.89 480.66L129.59 480.66Z" fill="none" stroke="#d62c4a" stroke-width="0.8" stroke-linejoin="round"/><path d="M138.63 460.16L141.78 466.96L135.48 466.96Z" fill="none" stroke="#d62c4a" stroke-width="0.8" stroke-linejoin="round"/><path d="M142.19 453.16L145.34 459.96L139.04 459.96Z" fill="none" stroke="#d62c4a" stroke-width="0.8" stroke-linejoin="round"/><ellipse cx="137.23" cy="454.7" rx="2.3" ry="3.0" fill="none" stroke="#2b4382" stroke-width="0.8"/><path d="M132.27 449.26L135.42 456.06L129.12 456.06Z" fill="none" stroke="#d62c4a" stroke-width="0.8" stroke-linejoin="round"/><ellipse cx="131.52" cy="450.3" rx="2.3" ry="3.0" fill="none" stroke="#2b4382" stroke-width="0.8"/><path d="M119.55 449.26L122.7 456.06L116.4 456.06Z" fill="none" stroke="#d62c4a" stroke-width="0.8" stroke-linejoin="round"/><path d="M112.26 438.26L115.41 445.06L109.11 445.06Z" fill="none" stroke="#d62c4a" stroke-width="0.8" stroke-linejoin="round"/><path d="M109.64 442.86L112.79 449.66L106.49 449.66Z" fill="none" stroke="#d62c4a" stroke-width="0.8" stroke-linejoin="round"/><ellipse cx="144.53" cy="449.2" rx="2.3" ry="3.0" fill="none" stroke="#2b4382" stroke-width="0.8"/><path d="M137.42 442.76L140.57 449.56L134.27 449.56Z" fill="none" stroke="#d62c4a" stroke-width="0.8" stroke-linejoin="round"/><path d="M139.94 441.66L143.09 448.46L136.79 448.46Z" fill="none" stroke="#d62c4a" stroke-width="0.8" stroke-linejoin="round"/><ellipse cx="136.39" cy="442.1" rx="2.3" ry="3.0" fill="none" stroke="#2b4382" stroke-width="0.8"/><ellipse cx="139.94" cy="441" rx="2.3" ry="3.0" fill="none" stroke="#2b4382" stroke-width="0.8"/><ellipse cx="142.75" cy="442.7" rx="2.3" ry="3.0" fill="none" stroke="#2b4382" stroke-width="0.8"/><ellipse cx="131.81" cy="444.3" rx="2.3" ry="3.0" fill="none" stroke="#2b4382" stroke-width="0.8"/><ellipse cx="127.04" cy="433.2" rx="2.3" ry="3.0" fill="none" stroke="#2b4382" stroke-width="0.8"/><ellipse cx="131.81" cy="436.2" rx="2.3" ry="3.0" fill="none" stroke="#2b4382" stroke-width="0.8"/><ellipse cx="129" cy="437.2" rx="2.3" ry="3.0" fill="none" stroke="#2b4382" stroke-width="0.8"/><path d="M137.42 431.16L140.57 437.96L134.27 437.96Z" fill="none" stroke="#d62c4a" stroke-width="0.8" stroke-linejoin="round"/><ellipse cx="139.66" cy="430.1" rx="2.3" ry="3.0" fill="none" stroke="#2b4382" stroke-width="0.8"/><ellipse cx="142.94" cy="430.6" rx="2.3" ry="3.0" fill="none" stroke="#2b4382" stroke-width="0.8"/><ellipse cx="146.02" cy="432.8" rx="2.3" ry="3.0" fill="none" stroke="#2b4382" stroke-width="0.8"/><ellipse cx="142.47" cy="424.9" rx="2.3" ry="3.0" fill="none" stroke="#2b4382" stroke-width="0.8"/><ellipse cx="142" cy="420.6" rx="2.3" ry="3.0" fill="none" stroke="#2b4382" stroke-width="0.8"/><path d="M140.22 416.86L143.37 423.66L137.07 423.66Z" fill="none" stroke="#d62c4a" stroke-width="0.8" stroke-linejoin="round"/><ellipse cx="139.66" cy="415.1" rx="2.3" ry="3.0" fill="none" stroke="#2b4382" stroke-width="0.8"/><path d="M148.64 414.16L151.79 420.96L145.49 420.96Z" fill="none" stroke="#d62c4a" stroke-width="0.8" stroke-linejoin="round"/><path d="M129.93 403.36L133.08 410.16L126.78 410.16Z" fill="none" stroke="#d62c4a" stroke-width="0.8" stroke-linejoin="round"/><ellipse cx="127.32" cy="394.8" rx="2.3" ry="3.0" fill="none" stroke="#2b4382" stroke-width="0.8"/><ellipse cx="147.99" cy="395" rx="2.3" ry="3.0" fill="none" stroke="#2b4382" stroke-width="0.8"/><path d="M140.69 389.06L143.84 395.86L137.54 395.86Z" fill="none" stroke="#d62c4a" stroke-width="0.8" stroke-linejoin="round"/><path d="M143.03 385.76L146.18 392.56L139.88 392.56Z" fill="none" stroke="#d62c4a" stroke-width="0.8" stroke-linejoin="round"/><path d="M131.43 376.86L134.58 383.66L128.28 383.66Z" fill="none" stroke="#d62c4a" stroke-width="0.8" stroke-linejoin="round"/><ellipse cx="129.84" cy="369.4" rx="2.3" ry="3.0" fill="none" stroke="#2b4382" stroke-width="0.8"/><ellipse cx="134.33" cy="375" rx="2.3" ry="3.0" fill="none" stroke="#2b4382" stroke-width="0.8"/></g><g transform="scale(0.74 1)"><ellipse cx="156.89" cy="451.33" rx="98.59" ry="95.7" transform="rotate(-83.63 156.89 451.33)" fill="none" stroke="#e0425e" stroke-width="1.05" stroke-dasharray="2.7 2.6"/><ellipse cx="162.75" cy="442.42" rx="98.64" ry="95.55" transform="rotate(-123.57 162.75 442.42)" fill="none" stroke="#3a5598" stroke-width="1.05" stroke-dasharray="2.7 2.6"/></g></g>
<rect x="28.9" y="304.5" width="180.6" height="257.6" fill="none" stroke="#bcbcbc" stroke-width="0.9"/>
<text transform="translate(34.87 572.1) scale(0.74 1)" font-size="8.3" fill="#3c3c3c" stroke="#3c3c3c" stroke-width="0.12" text-anchor="middle" textLength="14.32" lengthAdjust="spacingAndGlyphs">-0.6</text>
<text transform="translate(76.51 572.1) scale(0.74 1)" font-size="8.3" fill="#3c3c3c" stroke="#3c3c3c" stroke-width="0.12" text-anchor="middle" textLength="14.32" lengthAdjust="spacingAndGlyphs">-0.3</text>
<text transform="translate(118.15 572.1) scale(0.74 1)" font-size="8.3" fill="#3c3c3c" stroke="#3c3c3c" stroke-width="0.12" text-anchor="middle" textLength="11.35" lengthAdjust="spacingAndGlyphs">0.0</text>
<text transform="translate(159.79 572.1) scale(0.74 1)" font-size="8.3" fill="#3c3c3c" stroke="#3c3c3c" stroke-width="0.12" text-anchor="middle" textLength="11.35" lengthAdjust="spacingAndGlyphs">0.3</text>
<text transform="translate(201.43 572.1) scale(0.74 1)" font-size="8.3" fill="#3c3c3c" stroke="#3c3c3c" stroke-width="0.12" text-anchor="middle" textLength="11.35" lengthAdjust="spacingAndGlyphs">0.6</text>
<text transform="translate(25.8 518.25) scale(0.74 1)" font-size="8.3" fill="#3c3c3c" stroke="#3c3c3c" stroke-width="0.12" text-anchor="end" textLength="18.38" lengthAdjust="spacingAndGlyphs">-0.25</text>
<text transform="translate(25.8 448.8) scale(0.74 1)" font-size="8.3" fill="#3c3c3c" stroke="#3c3c3c" stroke-width="0.12" text-anchor="end" textLength="15.81" lengthAdjust="spacingAndGlyphs">0.00</text>
<text transform="translate(25.8 379.35) scale(0.74 1)" font-size="8.3" fill="#3c3c3c" stroke="#3c3c3c" stroke-width="0.12" text-anchor="end" textLength="15.81" lengthAdjust="spacingAndGlyphs">0.25</text>
<text transform="translate(25.8 309.9) scale(0.74 1)" font-size="8.3" fill="#3c3c3c" stroke="#3c3c3c" stroke-width="0.12" text-anchor="end" textLength="15.81" lengthAdjust="spacingAndGlyphs">0.50</text>
<line x1="34.87" y1="562.1" x2="34.87" y2="563.9" stroke="#333333" stroke-width="0.8"/><line x1="76.51" y1="562.1" x2="76.51" y2="563.9" stroke="#333333" stroke-width="0.8"/><line x1="118.15" y1="562.1" x2="118.15" y2="563.9" stroke="#333333" stroke-width="0.8"/><line x1="159.79" y1="562.1" x2="159.79" y2="563.9" stroke="#333333" stroke-width="0.8"/><line x1="201.43" y1="562.1" x2="201.43" y2="563.9" stroke="#333333" stroke-width="0.8"/><line x1="27.1" y1="515.75" x2="28.9" y2="515.75" stroke="#333333" stroke-width="0.9"/><line x1="27.1" y1="446.3" x2="28.9" y2="446.3" stroke="#333333" stroke-width="0.9"/><line x1="27.1" y1="376.85" x2="28.9" y2="376.85" stroke="#333333" stroke-width="0.9"/><line x1="27.1" y1="307.4" x2="28.9" y2="307.4" stroke="#333333" stroke-width="0.9"/>
<text transform="translate(119.2 582.7) scale(0.74 1)" font-size="9.4" fill="#111" stroke="#111" stroke-width="0.15" text-anchor="middle" textLength="60.41" lengthAdjust="spacingAndGlyphs">Axis.1 [17.4%]</text>
<text x="0" y="0" font-size="9.6" fill="#111" stroke="#111" stroke-width="0.3" text-anchor="middle" textLength="56.5" lengthAdjust="spacingAndGlyphs" transform="translate(9.5 433.3) scale(0.74 1) rotate(-90)">Axis.2 [8.4%]</text>
<text transform="translate(179.2 321.8) scale(0.74 1)" font-size="7.8" fill="#111" stroke="#111" stroke-width="0.18" textLength="30.14" lengthAdjust="spacingAndGlyphs"><tspan font-style="italic">p</tspan> = 0.609</text>
<text transform="translate(217 422.5) scale(0.74 1)" font-size="7" fill="#111" stroke="#111" stroke-width="0.18" text-anchor="start" textLength="68.92" lengthAdjust="spacingAndGlyphs">3-Indoxyl Sulfate (nM)</text>
<g><line x1="218.5" y1="432.2" x2="220" y2="432.2" stroke="#d62c4a" stroke-width="1.1"/><line x1="223.1" y1="432.2" x2="224.6" y2="432.2" stroke="#d62c4a" stroke-width="1.1"/><line x1="218.5" y1="443.7" x2="220" y2="443.7" stroke="#2b4382" stroke-width="1.1"/><line x1="223.1" y1="443.7" x2="224.6" y2="443.7" stroke="#2b4382" stroke-width="1.1"/><path d="M221.6 428.21L224.25 434.01L218.95 434.01Z" fill="none" stroke="#d62c4a" stroke-width="0.8" stroke-linejoin="round"/><ellipse cx="221.6" cy="443.7" rx="2.5" ry="3.0" fill="none" stroke="#2b4382" stroke-width="0.8"/></g>
<text transform="translate(228.4 434) scale(0.74 1)" font-size="7.2" fill="#111" stroke="#111" stroke-width="0.18" text-anchor="start" textLength="14.46" lengthAdjust="spacingAndGlyphs">High</text>
<text transform="translate(228.4 446.1) scale(0.74 1)" font-size="7.2" fill="#111" stroke="#111" stroke-width="0.18" text-anchor="start" textLength="12.7" lengthAdjust="spacingAndGlyphs">Low</text>
<clipPath id="cBR"><rect x="308.1" y="304.5" width="173.3" height="257.8"/></clipPath>
<g clip-path="url(#cBR)"><line x1="333.96" y1="304.5" x2="333.96" y2="562.3" stroke="#f5f5f5" stroke-width="0.6"/><line x1="373.92" y1="304.5" x2="373.92" y2="562.3" stroke="#f5f5f5" stroke-width="0.6"/><line x1="413.88" y1="304.5" x2="413.88" y2="562.3" stroke="#f5f5f5" stroke-width="0.6"/><line x1="453.84" y1="304.5" x2="453.84" y2="562.3" stroke="#f5f5f5" stroke-width="0.6"/><line x1="308.1" y1="552.49" x2="481.4" y2="552.49" stroke="#f5f5f5" stroke-width="0.6"/><line x1="308.1" y1="482.36" x2="481.4" y2="482.36" stroke="#f5f5f5" stroke-width="0.6"/><line x1="308.1" y1="412.24" x2="481.4" y2="412.24" stroke="#f5f5f5" stroke-width="0.6"/><line x1="308.1" y1="342.11" x2="481.4" y2="342.11" stroke="#f5f5f5" stroke-width="0.6"/><line x1="313.98" y1="304.5" x2="313.98" y2="562.3" stroke="#efefef" stroke-width="0.8"/><line x1="353.94" y1="304.5" x2="353.94" y2="562.3" stroke="#efefef" stroke-width="0.8"/><line x1="393.9" y1="304.5" x2="393.9" y2="562.3" stroke="#efefef" stroke-width="0.8"/><line x1="433.86" y1="304.5" x2="433.86" y2="562.3" stroke="#efefef" stroke-width="0.8"/><line x1="473.82" y1="304.5" x2="473.82" y2="562.3" stroke="#efefef" stroke-width="0.8"/><line x1="308.1" y1="517.42" x2="481.4" y2="517.42" stroke="#efefef" stroke-width="0.8"/><line x1="308.1" y1="447.3" x2="481.4" y2="447.3" stroke="#efefef" stroke-width="0.8"/><line x1="308.1" y1="377.18" x2="481.4" y2="377.18" stroke="#efefef" stroke-width="0.8"/><line x1="308.1" y1="307.05" x2="481.4" y2="307.05" stroke="#efefef" stroke-width="0.8"/><g filter="url(#bl)"><ellipse cx="393.45" cy="330.98" rx="2.3" ry="3.0" fill="none" stroke="#2b4382" stroke-width="0.8"/><path d="M315.81 360.06L318.96 366.86L312.66 366.86Z" fill="none" stroke="#d62c4a" stroke-width="0.8" stroke-linejoin="round"/><path d="M354.32 365.1L357.47 371.9L351.17 371.9Z" fill="none" stroke="#d62c4a" stroke-width="0.8" stroke-linejoin="round"/><ellipse cx="348.03" cy="392.47" rx="2.3" ry="3.0" fill="none" stroke="#2b4382" stroke-width="0.8"/><path d="M333.4 394.69L336.55 401.49L330.25 401.49Z" fill="none" stroke="#d62c4a" stroke-width="0.8" stroke-linejoin="round"/><ellipse cx="350.1" cy="405.3" rx="2.3" ry="3.0" fill="none" stroke="#2b4382" stroke-width="0.8"/><path d="M326.22 404.89L329.37 411.69L323.07 411.69Z" fill="none" stroke="#d62c4a" stroke-width="0.8" stroke-linejoin="round"/><path d="M351.89 417.71L355.04 424.51L348.74 424.51Z" fill="none" stroke="#d62c4a" stroke-width="0.8" stroke-linejoin="round"/><ellipse cx="336.63" cy="426.6" rx="2.3" ry="3.0" fill="none" stroke="#2b4382" stroke-width="0.8"/><path d="M353.6 423.06L356.75 429.86L350.45 429.86Z" fill="none" stroke="#d62c4a" stroke-width="0.8" stroke-linejoin="round"/><path d="M353.24 452.24L356.39 459.04L350.09 459.04Z" fill="none" stroke="#d62c4a" stroke-width="0.8" stroke-linejoin="round"/><ellipse cx="358.89" cy="455.48" rx="2.3" ry="3.0" fill="none" stroke="#2b4382" stroke-width="0.8"/><ellipse cx="339.24" cy="461.94" rx="2.3" ry="3.0" fill="none" stroke="#2b4382" stroke-width="0.8"/><ellipse cx="352.07" cy="465.27" rx="2.3" ry="3.0" fill="none" stroke="#2b4382" stroke-width="0.8"/><ellipse cx="351.89" cy="482.24" rx="2.3" ry="3.0" fill="none" stroke="#2b4382" stroke-width="0.8"/><path d="M358.18 477.69L361.33 484.49L355.03 484.49Z" fill="none" stroke="#d62c4a" stroke-width="0.8" stroke-linejoin="round"/><ellipse cx="355.57" cy="486.28" rx="2.3" ry="3.0" fill="none" stroke="#2b4382" stroke-width="0.8"/><ellipse cx="353.24" cy="492.43" rx="2.3" ry="3.0" fill="none" stroke="#2b4382" stroke-width="0.8"/><path d="M374.15 482.84L377.3 489.64L371 489.64Z" fill="none" stroke="#d62c4a" stroke-width="0.8" stroke-linejoin="round"/><path d="M364.46 494.95L367.61 501.75L361.31 501.75Z" fill="none" stroke="#d62c4a" stroke-width="0.8" stroke-linejoin="round"/><path d="M368.68 507.78L371.83 514.58L365.53 514.58Z" fill="none" stroke="#d62c4a" stroke-width="0.8" stroke-linejoin="round"/><path d="M386.9 492.83L390.05 499.63L383.75 499.63Z" fill="none" stroke="#d62c4a" stroke-width="0.8" stroke-linejoin="round"/><path d="M404.4 494.85L407.55 501.65L401.25 501.65Z" fill="none" stroke="#d62c4a" stroke-width="0.8" stroke-linejoin="round"/><path d="M405.66 493.84L408.81 500.64L402.51 500.64Z" fill="none" stroke="#d62c4a" stroke-width="0.8" stroke-linejoin="round"/><path d="M385.73 508.18L388.88 514.98L382.58 514.98Z" fill="none" stroke="#d62c4a" stroke-width="0.8" stroke-linejoin="round"/><ellipse cx="385.73" cy="511.92" rx="2.3" ry="3.0" fill="none" stroke="#2b4382" stroke-width="0.8"/><ellipse cx="393.09" cy="515.76" rx="2.3" ry="3.0" fill="none" stroke="#2b4382" stroke-width="0.8"/><ellipse cx="385.82" cy="533.23" rx="2.3" ry="3.0" fill="none" stroke="#2b4382" stroke-width="0.8"/><path d="M390.76 482.23L393.91 489.03L387.61 489.03Z" fill="none" stroke="#d62c4a" stroke-width="0.8" stroke-linejoin="round"/><ellipse cx="391.12" cy="490.52" rx="2.3" ry="3.0" fill="none" stroke="#2b4382" stroke-width="0.8"/><path d="M399.91 490.61L403.06 497.41L396.76 497.41Z" fill="none" stroke="#d62c4a" stroke-width="0.8" stroke-linejoin="round"/><ellipse cx="394.53" cy="481.93" rx="2.3" ry="3.0" fill="none" stroke="#2b4382" stroke-width="0.8"/><path d="M401.89 478.19L405.04 484.99L398.74 484.99Z" fill="none" stroke="#d62c4a" stroke-width="0.8" stroke-linejoin="round"/><ellipse cx="398.48" cy="472.24" rx="2.3" ry="3.0" fill="none" stroke="#2b4382" stroke-width="0.8"/><path d="M406.83 465.87L409.98 472.67L403.68 472.67Z" fill="none" stroke="#d62c4a" stroke-width="0.8" stroke-linejoin="round"/><ellipse cx="408.26" cy="472.74" rx="2.3" ry="3.0" fill="none" stroke="#2b4382" stroke-width="0.8"/><ellipse cx="409.61" cy="476.38" rx="2.3" ry="3.0" fill="none" stroke="#2b4382" stroke-width="0.8"/><ellipse cx="411.85" cy="478.9" rx="2.3" ry="3.0" fill="none" stroke="#2b4382" stroke-width="0.8"/><path d="M406.2 475.77L409.35 482.57L403.05 482.57Z" fill="none" stroke="#d62c4a" stroke-width="0.8" stroke-linejoin="round"/><path d="M407.9 475.16L411.05 481.96L404.75 481.96Z" fill="none" stroke="#d62c4a" stroke-width="0.8" stroke-linejoin="round"/><ellipse cx="413.56" cy="465.07" rx="2.3" ry="3.0" fill="none" stroke="#2b4382" stroke-width="0.8"/><path d="M416.97 454.26L420.12 461.06L413.82 461.06Z" fill="none" stroke="#d62c4a" stroke-width="0.8" stroke-linejoin="round"/><ellipse cx="412.21" cy="455.78" rx="2.3" ry="3.0" fill="none" stroke="#2b4382" stroke-width="0.8"/><path d="M407.45 450.33L410.6 457.13L404.3 457.13Z" fill="none" stroke="#d62c4a" stroke-width="0.8" stroke-linejoin="round"/><ellipse cx="406.74" cy="451.34" rx="2.3" ry="3.0" fill="none" stroke="#2b4382" stroke-width="0.8"/><path d="M395.25 450.33L398.4 457.13L392.1 457.13Z" fill="none" stroke="#d62c4a" stroke-width="0.8" stroke-linejoin="round"/><path d="M388.25 439.22L391.4 446.02L385.1 446.02Z" fill="none" stroke="#d62c4a" stroke-width="0.8" stroke-linejoin="round"/><ellipse cx="385.73" cy="447.6" rx="2.3" ry="3.0" fill="none" stroke="#2b4382" stroke-width="0.8"/><ellipse cx="419.21" cy="450.23" rx="2.3" ry="3.0" fill="none" stroke="#2b4382" stroke-width="0.8"/><path d="M412.39 443.76L415.54 450.56L409.24 450.56Z" fill="none" stroke="#d62c4a" stroke-width="0.8" stroke-linejoin="round"/><path d="M414.81 442.65L417.96 449.45L411.66 449.45Z" fill="none" stroke="#d62c4a" stroke-width="0.8" stroke-linejoin="round"/><ellipse cx="411.4" cy="443.06" rx="2.3" ry="3.0" fill="none" stroke="#2b4382" stroke-width="0.8"/><ellipse cx="414.81" cy="441.95" rx="2.3" ry="3.0" fill="none" stroke="#2b4382" stroke-width="0.8"/><ellipse cx="417.51" cy="443.67" rx="2.3" ry="3.0" fill="none" stroke="#2b4382" stroke-width="0.8"/><path d="M407 441.54L410.15 448.34L403.85 448.34Z" fill="none" stroke="#d62c4a" stroke-width="0.8" stroke-linejoin="round"/><path d="M402.43 430.33L405.58 437.13L399.28 437.13Z" fill="none" stroke="#d62c4a" stroke-width="0.8" stroke-linejoin="round"/><path d="M407 433.36L410.15 440.16L403.85 440.16Z" fill="none" stroke="#d62c4a" stroke-width="0.8" stroke-linejoin="round"/><path d="M404.31 434.37L407.46 441.17L401.16 441.17Z" fill="none" stroke="#d62c4a" stroke-width="0.8" stroke-linejoin="round"/><path d="M412.39 432.05L415.54 438.85L409.24 438.85Z" fill="none" stroke="#d62c4a" stroke-width="0.8" stroke-linejoin="round"/><ellipse cx="414.54" cy="430.94" rx="2.3" ry="3.0" fill="none" stroke="#2b4382" stroke-width="0.8"/><ellipse cx="417.69" cy="431.45" rx="2.3" ry="3.0" fill="none" stroke="#2b4382" stroke-width="0.8"/><path d="M420.65 429.93L423.8 436.73L417.5 436.73Z" fill="none" stroke="#d62c4a" stroke-width="0.8" stroke-linejoin="round"/><path d="M417.24 421.95L420.39 428.75L414.09 428.75Z" fill="none" stroke="#d62c4a" stroke-width="0.8" stroke-linejoin="round"/><ellipse cx="416.79" cy="421.35" rx="2.3" ry="3.0" fill="none" stroke="#2b4382" stroke-width="0.8"/><path d="M415.08 417.61L418.23 424.41L411.93 424.41Z" fill="none" stroke="#d62c4a" stroke-width="0.8" stroke-linejoin="round"/><ellipse cx="414.54" cy="415.8" rx="2.3" ry="3.0" fill="none" stroke="#2b4382" stroke-width="0.8"/><path d="M423.16 414.88L426.31 421.68L420.01 421.68Z" fill="none" stroke="#d62c4a" stroke-width="0.8" stroke-linejoin="round"/><ellipse cx="405.21" cy="407.72" rx="2.3" ry="3.0" fill="none" stroke="#2b4382" stroke-width="0.8"/><ellipse cx="402.7" cy="395.3" rx="2.3" ry="3.0" fill="none" stroke="#2b4382" stroke-width="0.8"/><path d="M422.53 391.76L425.68 398.56L419.38 398.56Z" fill="none" stroke="#d62c4a" stroke-width="0.8" stroke-linejoin="round"/><path d="M415.53 389.54L418.68 396.34L412.38 396.34Z" fill="none" stroke="#d62c4a" stroke-width="0.8" stroke-linejoin="round"/><path d="M417.78 386.21L420.93 393.01L414.63 393.01Z" fill="none" stroke="#d62c4a" stroke-width="0.8" stroke-linejoin="round"/><path d="M406.65 377.22L409.8 384.02L403.5 384.02Z" fill="none" stroke="#d62c4a" stroke-width="0.8" stroke-linejoin="round"/><ellipse cx="405.12" cy="369.65" rx="2.3" ry="3.0" fill="none" stroke="#2b4382" stroke-width="0.8"/><ellipse cx="409.43" cy="375.31" rx="2.3" ry="3.0" fill="none" stroke="#2b4382" stroke-width="0.8"/></g><g transform="scale(0.74 1)"><ellipse cx="531.27" cy="445.42" rx="102.32" ry="95.56" transform="rotate(-133.92 531.27 445.42)" fill="none" stroke="#e0425e" stroke-width="1.05" stroke-dasharray="2.7 2.6"/><ellipse cx="533.89" cy="449.76" rx="101.96" ry="84.62" transform="rotate(-72.41 533.89 449.76)" fill="none" stroke="#3a5598" stroke-width="1.05" stroke-dasharray="2.7 2.6"/></g></g>
<rect x="308.1" y="304.5" width="173.3" height="257.8" fill="none" stroke="#bcbcbc" stroke-width="0.9"/>
<text transform="translate(313.98 572.1) scale(0.74 1)" font-size="8.3" fill="#3c3c3c" stroke="#3c3c3c" stroke-width="0.12" text-anchor="middle" textLength="14.32" lengthAdjust="spacingAndGlyphs">-0.6</text>
<text transform="translate(353.94 572.1) scale(0.74 1)" font-size="8.3" fill="#3c3c3c" stroke="#3c3c3c" stroke-width="0.12" text-anchor="middle" textLength="14.32" lengthAdjust="spacingAndGlyphs">-0.3</text>
<text transform="translate(393.9 572.1) scale(0.74 1)" font-size="8.3" fill="#3c3c3c" stroke="#3c3c3c" stroke-width="0.12" text-anchor="middle" textLength="11.35" lengthAdjust="spacingAndGlyphs">0.0</text>
<text transform="translate(433.86 572.1) scale(0.74 1)" font-size="8.3" fill="#3c3c3c" stroke="#3c3c3c" stroke-width="0.12" text-anchor="middle" textLength="11.35" lengthAdjust="spacingAndGlyphs">0.3</text>
<text transform="translate(473.82 572.1) scale(0.74 1)" font-size="8.3" fill="#3c3c3c" stroke="#3c3c3c" stroke-width="0.12" text-anchor="middle" textLength="11.35" lengthAdjust="spacingAndGlyphs">0.6</text>
<text transform="translate(305 519.92) scale(0.74 1)" font-size="8.3" fill="#3c3c3c" stroke="#3c3c3c" stroke-width="0.12" text-anchor="end" textLength="18.38" lengthAdjust="spacingAndGlyphs">-0.25</text>
<text transform="translate(305 449.8) scale(0.74 1)" font-size="8.3" fill="#3c3c3c" stroke="#3c3c3c" stroke-width="0.12" text-anchor="end" textLength="15.81" lengthAdjust="spacingAndGlyphs">0.00</text>
<text transform="translate(305 379.68) scale(0.74 1)" font-size="8.3" fill="#3c3c3c" stroke="#3c3c3c" stroke-width="0.12" text-anchor="end" textLength="15.81" lengthAdjust="spacingAndGlyphs">0.25</text>
<text transform="translate(305 309.55) scale(0.74 1)" font-size="8.3" fill="#3c3c3c" stroke="#3c3c3c" stroke-width="0.12" text-anchor="end" textLength="15.81" lengthAdjust="spacingAndGlyphs">0.50</text>
<line x1="313.98" y1="562.3" x2="313.98" y2="564.1" stroke="#333333" stroke-width="0.8"/><line x1="353.94" y1="562.3" x2="353.94" y2="564.1" stroke="#333333" stroke-width="0.8"/><line x1="393.9" y1="562.3" x2="393.9" y2="564.1" stroke="#333333" stroke-width="0.8"/><line x1="433.86" y1="562.3" x2="433.86" y2="564.1" stroke="#333333" stroke-width="0.8"/><line x1="473.82" y1="562.3" x2="473.82" y2="564.1" stroke="#333333" stroke-width="0.8"/><line x1="306.3" y1="517.42" x2="308.1" y2="517.42" stroke="#333333" stroke-width="0.9"/><line x1="306.3" y1="447.3" x2="308.1" y2="447.3" stroke="#333333" stroke-width="0.9"/><line x1="306.3" y1="377.18" x2="308.1" y2="377.18" stroke="#333333" stroke-width="0.9"/><line x1="306.3" y1="307.05" x2="308.1" y2="307.05" stroke="#333333" stroke-width="0.9"/>
<text transform="translate(394.75 582.9) scale(0.74 1)" font-size="9.4" fill="#111" stroke="#111" stroke-width="0.15" text-anchor="middle" textLength="60.41" lengthAdjust="spacingAndGlyphs">Axis.1 [17.4%]</text>
<text x="0" y="0" font-size="9.6" fill="#111" stroke="#111" stroke-width="0.3" text-anchor="middle" textLength="56.5" lengthAdjust="spacingAndGlyphs" transform="translate(288.7 433.4) scale(0.74 1) rotate(-90)">Axis.2 [8.4%]</text>
<text transform="translate(451.5 321.8) scale(0.74 1)" font-size="7.8" fill="#111" stroke="#111" stroke-width="0.18" textLength="30.41" lengthAdjust="spacingAndGlyphs"><tspan font-style="italic">p</tspan> = 0.929</text>
<text transform="translate(489.7 422.5) scale(0.74 1)" font-size="7" fill="#111" stroke="#111" stroke-width="0.18" text-anchor="start" textLength="77.84" lengthAdjust="spacingAndGlyphs">Indoxyl Glucuronide (nM)</text>
<g><line x1="490.3" y1="432.2" x2="491.8" y2="432.2" stroke="#d62c4a" stroke-width="1.1"/><line x1="494.9" y1="432.2" x2="496.4" y2="432.2" stroke="#d62c4a" stroke-width="1.1"/><line x1="490.3" y1="443.9" x2="491.8" y2="443.9" stroke="#2b4382" stroke-width="1.1"/><line x1="494.9" y1="443.9" x2="496.4" y2="443.9" stroke="#2b4382" stroke-width="1.1"/><path d="M493.4 428.21L496.05 434.01L490.75 434.01Z" fill="none" stroke="#d62c4a" stroke-width="0.8" stroke-linejoin="round"/><ellipse cx="493.4" cy="443.9" rx="2.5" ry="3.0" fill="none" stroke="#2b4382" stroke-width="0.8"/></g>
<text transform="translate(500.2 434) scale(0.74 1)" font-size="7.2" fill="#111" stroke="#111" stroke-width="0.18" text-anchor="start" textLength="14.46" lengthAdjust="spacingAndGlyphs">High</text>
<text transform="translate(500.2 446.3) scale(0.74 1)" font-size="7.2" fill="#111" stroke="#111" stroke-width="0.18" text-anchor="start" textLength="12.7" lengthAdjust="spacingAndGlyphs">Low</text>
</svg></body></html>
